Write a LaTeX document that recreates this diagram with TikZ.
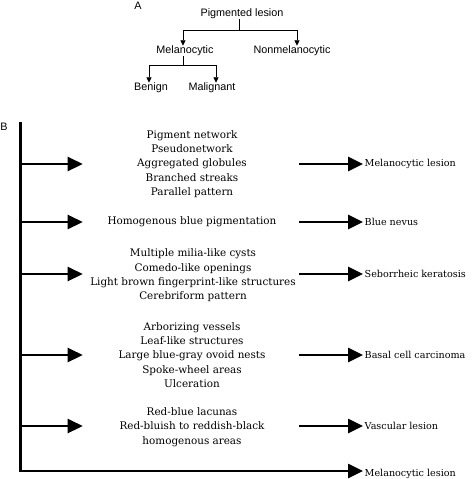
\documentclass[tikz,border=0pt]{standalone}
\usepackage{fontspec}
\setmainfont{DejaVu Serif}
\newfontfamily\treefont{Liberation Sans}
\usepackage{tikz}
\usetikzlibrary{positioning, arrows.meta}

\begin{document}
\begin{tikzpicture}[
        x=1pt, y=-1pt,
        every node/.style={font=\fontsize{10.4}{14.3}\selectfont},
        treetext/.style={font=\treefont\fontsize{10.8}{13}\selectfont, inner sep=0pt},
        treearrow/.style={-{Triangle[length=5.5pt, width=5pt]}, line width=0.9pt},
        findings/.style={align=center, inner sep=0pt},
        diagnosis/.style={anchor=west, inner sep=1.5pt, font=\fontsize{9.6}{12}\selectfont},
        bigarrow/.style={-{Triangle[length=15pt, width=14pt]}, line width=2.6pt, line join=miter}
    ]
    \useasboundingbox (0,0) rectangle (474,479);

    % panel A
    \node[treetext] (labelA) at (138,6) {A};
    \node[treetext] (pigmented) at (242,14) {Pigmented lesion};
    \node[treetext] (melanocytic) at (185,51) {Melanocytic};
    \node[treetext] (nonmelanocytic) at (292,51) {Nonmelanocytic};
    \node[treetext] (benign) at (151,88) {Benign};
    \node[treetext] (malignant) at (212,88) {Malignant};

    \coordinate (splitPig) at (239,30.5);
    \coordinate (splitMel) at (183,65);

    \draw[line width=0.9pt] (pigmented.south -| splitPig) -- (splitPig);
    \draw[treearrow] (splitPig) -| ([xshift=-2]melanocytic.north);
    \draw[treearrow] (splitPig) -| ([xshift=5]nonmelanocytic.north);

    \draw[line width=0.9pt] (melanocytic.south -| splitMel) -- (splitMel);
    \draw[treearrow] (splitMel) -| ([xshift=-2]benign.north);
    \draw[treearrow] (splitMel) -| ([xshift=4]malignant.north);

    % panel B
    \node[treetext] (labelB) at (4,127) {B};
    \coordinate (trunk) at (20.7,122);
    \coordinate (corner) at (20.7,471);

    \node[findings] (network) at (192,164) {Pigment network\\Pseudonetwork\\Aggregated globules\\Branched streaks\\Parallel pattern};
    \node[findings] (bluepig) at (192,222) {Homogenous blue pigmentation};
    \node[findings] (cysts) at (193,275.5) {Multiple milia-like cysts\\Comedo-like openings\\Light brown fingerprint-like structures\\Cerebriform pattern};
    \node[findings] (vessels) at (192,355) {Arborizing vessels\\Leaf-like structures\\Large blue-gray ovoid nests\\Spoke-wheel areas\\Ulceration};
    \node[findings] (lacunas) at (192,427) {Red-blue lacunas\\Red-bluish to reddish-black\\homogenous areas};

    \node[diagnosis] (melLesion) at (363,164) {Melanocytic lesion};
    \node[diagnosis] (blueNevus) at (363,222) {Blue nevus};
    \node[diagnosis] (seborrheic) at (363,274) {Seborrheic keratosis};
    \node[diagnosis] (basal) at (363,355) {Basal cell carcinoma};
    \node[diagnosis] (vascular) at (363,426) {Vascular lesion};
    \node[diagnosis] (melLesionEnd) at (363,473.5) {Melanocytic lesion};

    \draw[bigarrow] (trunk) -- (corner) -- (corner -| melLesionEnd.west);

    \draw[bigarrow] (trunk |- network) -- +(62,0);
    \draw[bigarrow] (trunk |- bluepig) -- +(62,0);
    \draw[bigarrow] (trunk |- seborrheic) -- +(62,0);
    \draw[bigarrow] (trunk |- vessels) -- +(62,0);
    \draw[bigarrow] (trunk |- vascular) -- +(62,0);

    \draw[bigarrow] ([xshift=-64]melLesion.west) -- (melLesion.west);
    \draw[bigarrow] ([xshift=-64]blueNevus.west) -- (blueNevus.west);
    \draw[bigarrow] ([xshift=-64]seborrheic.west) -- (seborrheic.west);
    \draw[bigarrow] ([xshift=-64]basal.west) -- (basal.west);
    \draw[bigarrow] ([xshift=-64]vascular.west) -- (vascular.west);

\end{tikzpicture}
\end{document}
